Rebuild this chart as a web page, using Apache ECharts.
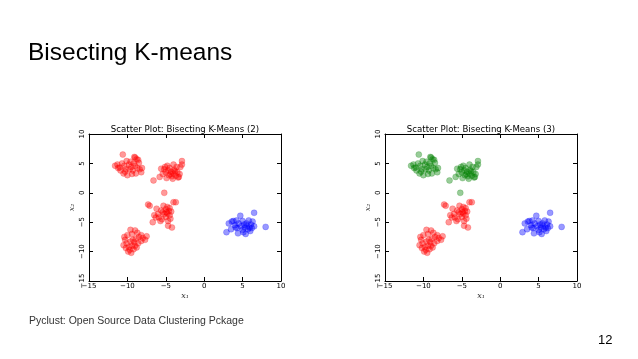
<!DOCTYPE html>
<html><head><meta charset="utf-8">
<script src="https://cdn.jsdelivr.net/npm/echarts@6/dist/echarts.min.js"></script>
<style>html,body{margin:0;padding:0;background:#fff}#c{width:638px;height:359px}</style>
</head><body><div id="c"></div>
<script>
var pageTitle = "Bisecting K-means";
var footerText = "Pyclust: Open Source Data Clustering Pckage";
var pageNumber = "12";
var plotTitles = ["Scatter Plot: Bisecting K-Means (2)", "Scatter Plot: Bisecting K-Means (3)"];
var axisTicks = [-15, -10, -5, 0, 5, 10];

var clusterA = [[-10.6,6.5],[-11.3,4.8],[-11.0,4.3],[-10.7,5.0],[-10.4,4.6],[-10.2,4.0],[-10.5,3.3],[-10.0,3.0],[-9.8,4.8],[-9.6,5.3],[-9.5,4.4],[-9.3,3.8],[-9.2,5.0],[-9.0,4.6],[-9.0,6.0],[-8.8,5.7],[-8.7,4.2],[-8.5,5.1],[-8.4,4.0],[-8.2,3.5],[-9.4,3.2],[-10.9,3.8],[-11.6,4.6],[-10.1,5.4],[-9.7,4.0],[-8.9,3.3],[-8.6,5.6],[-10.3,3.6],[-9.1,6.1],[-11.2,4.2],[-8.1,4.2]];
var clusterB = [[-5.8,2.7],[-5.4,3.2],[-5.2,4.0],[-5.0,3.5],[-4.8,4.6],[-4.6,3.0],[-4.5,4.2],[-4.3,3.6],[-4.2,2.8],[-4.0,4.8],[-4.0,3.3],[-3.9,3.9],[-3.7,2.9],[-3.6,4.4],[-3.5,3.5],[-3.4,2.6],[-3.2,3.2],[-3.1,4.4],[-2.9,5.4],[-2.9,4.8],[-4.9,2.5],[-5.6,4.1],[-3.8,3.7],[-4.4,3.2],[-3.3,2.7],[-5.1,4.4],[-4.1,2.4],[-4.7,3.8],[-6.6,2.1],[-5.2,0.0]];
var clusterC = [[-7.3,-2.0],[-7.1,-2.2],[-6.2,-2.7],[-6.7,-5.0],[-6.0,-3.6],[-5.9,-4.2],[-5.6,-3.0],[-5.5,-4.5],[-5.3,-2.2],[-5.2,-3.6],[-5.0,-2.8],[-5.0,-4.1],[-4.9,-3.3],[-4.8,-2.4],[-4.7,-4.8],[-4.6,-3.1],[-4.5,-3.8],[-4.5,-2.6],[-4.4,-4.4],[-4.3,-3.2],[-4.7,-5.6],[-4.2,-5.9],[-4.0,-1.6],[-3.7,-1.6],[-5.7,-4.8],[-6.3,-4.2],[-5.4,-3.3],[-4.8,-3.5],[-6.5,-3.8]];
var clusterD = [[-9.6,-6.3],[-9.0,-6.4],[-8.7,-6.8],[-8.2,-7.2],[-7.5,-7.4],[-7.7,-8.0],[-8.5,-7.5],[-8.9,-7.8],[-9.4,-7.0],[-10.0,-7.2],[-10.3,-8.0],[-10.1,-8.6],[-9.8,-9.2],[-9.9,-10.0],[-9.5,-10.2],[-9.2,-9.6],[-9.0,-9.0],[-8.6,-8.6],[-8.2,-8.2],[-9.6,-8.3],[-9.3,-8.0],[-10.5,-8.9],[-9.7,-9.7],[-9.1,-8.4],[-8.8,-9.3],[-10.2,-9.4],[-9.4,-9.0],[-8.0,-7.7],[-10.4,-7.5]];
var clusterE = [[2.9,-6.7],[3.2,-5.2],[3.5,-6.2],[3.8,-4.8],[4.0,-5.5],[4.2,-4.7],[4.3,-6.0],[4.4,-6.9],[4.5,-5.2],[4.7,-3.9],[4.8,-5.7],[5.0,-4.8],[5.0,-6.3],[5.2,-5.4],[5.3,-5.9],[5.4,-7.0],[5.5,-5.2],[5.6,-5.6],[5.7,-6.2],[5.8,-4.7],[5.9,-5.9],[6.1,-5.4],[6.2,-6.0],[6.3,-4.9],[6.5,-5.7],[6.5,-3.4],[8.0,-5.8],[4.1,-5.9],[5.1,-6.7],[6.0,-6.5],[3.6,-4.9]];

var RED = 'rgba(255,0,0,0.5)', BLUE = 'rgba(0,0,255,0.5)', GREEN = 'rgba(0,128,0,0.5)';
var grids = [{left:89, top:134, width:192, height:147}, {left:385, top:134, width:192, height:147}];
var tickFont = 'DejaVu Sans';
function fmt(v){ return v < 0 ? '\u2212' + Math.abs(v) : String(v); }

var xAxes = [], yAxes = [], series = [], titles = [];
grids.forEach(function(g, i){
  var common = {type:'value', min:-15, max:10, interval:5, gridIndex:i, splitLine:{show:false},
    axisLine:{show:true, onZero:false, lineStyle:{color:'#000', width:1}},
    axisTick:{show:true, inside:true, length:4, lineStyle:{color:'#000'}}};
  xAxes.push(Object.assign({}, common, {position:'bottom', name:'x\u2081', nameLocation:'middle', nameGap:11,
    nameTextStyle:{fontFamily:'DejaVu Serif', fontStyle:'italic', fontSize:8, color:'#333'},
    axisLabel:{fontSize:7, color:'#000', fontFamily:tickFont, margin:2, formatter:fmt}}));
  xAxes.push(Object.assign({}, common, {position:'top', axisLabel:{show:false}}));
  yAxes.push(Object.assign({}, common, {position:'left', name:'x\u2082', nameLocation:'middle', nameGap:13, nameRotate:90,
    nameTextStyle:{fontFamily:'DejaVu Serif', fontStyle:'italic', fontSize:8, color:'#333'},
    axisLabel:{fontSize:7, color:'#000', fontFamily:tickFont, margin:3, rotate:90, formatter:fmt}}));
  yAxes.push(Object.assign({}, common, {position:'right', axisLabel:{show:false}}));
  titles.push({text:plotTitles[i], left:g.left + g.width/2, top:125, textAlign:'center', padding:0,
    textStyle:{fontSize:8.6, fontWeight:'normal', color:'#000', fontFamily:'DejaVu Sans'}});
});
function sc(data, color, i){
  return {type:'scatter', data:data, xAxisIndex:i*2, yAxisIndex:i*2, symbolSize:6,
    itemStyle:{color:color, borderColor:color, borderWidth:0.5}, silent:true, animation:false};
}
series.push(sc(clusterA, RED, 0), sc(clusterB, RED, 0), sc(clusterC, RED, 0), sc(clusterD, RED, 0), sc(clusterE, BLUE, 0));
series.push(sc(clusterA, GREEN, 1), sc(clusterB, GREEN, 1), sc(clusterC, RED, 1), sc(clusterD, RED, 1), sc(clusterE, BLUE, 1));

titles.push({text:pageTitle, left:28, top:41, padding:0, textStyle:{fontSize:24.5, fontWeight:'normal', color:'#000', fontFamily:'Liberation Sans'}});
titles.push({text:footerText, left:29, top:316, padding:0, textStyle:{fontSize:10.5, fontWeight:'normal', color:'#333', fontFamily:'Liberation Sans'}});
titles.push({text:pageNumber, left:598, top:334, padding:0, textStyle:{fontSize:13, fontWeight:'normal', color:'#000', fontFamily:'Liberation Sans'}});

var chart = echarts.init(document.getElementById('c'));
chart.setOption({animation:false, backgroundColor:'#fff', title:titles, grid:grids, xAxis:xAxes, yAxis:yAxes, series:series});
</script></body></html>
